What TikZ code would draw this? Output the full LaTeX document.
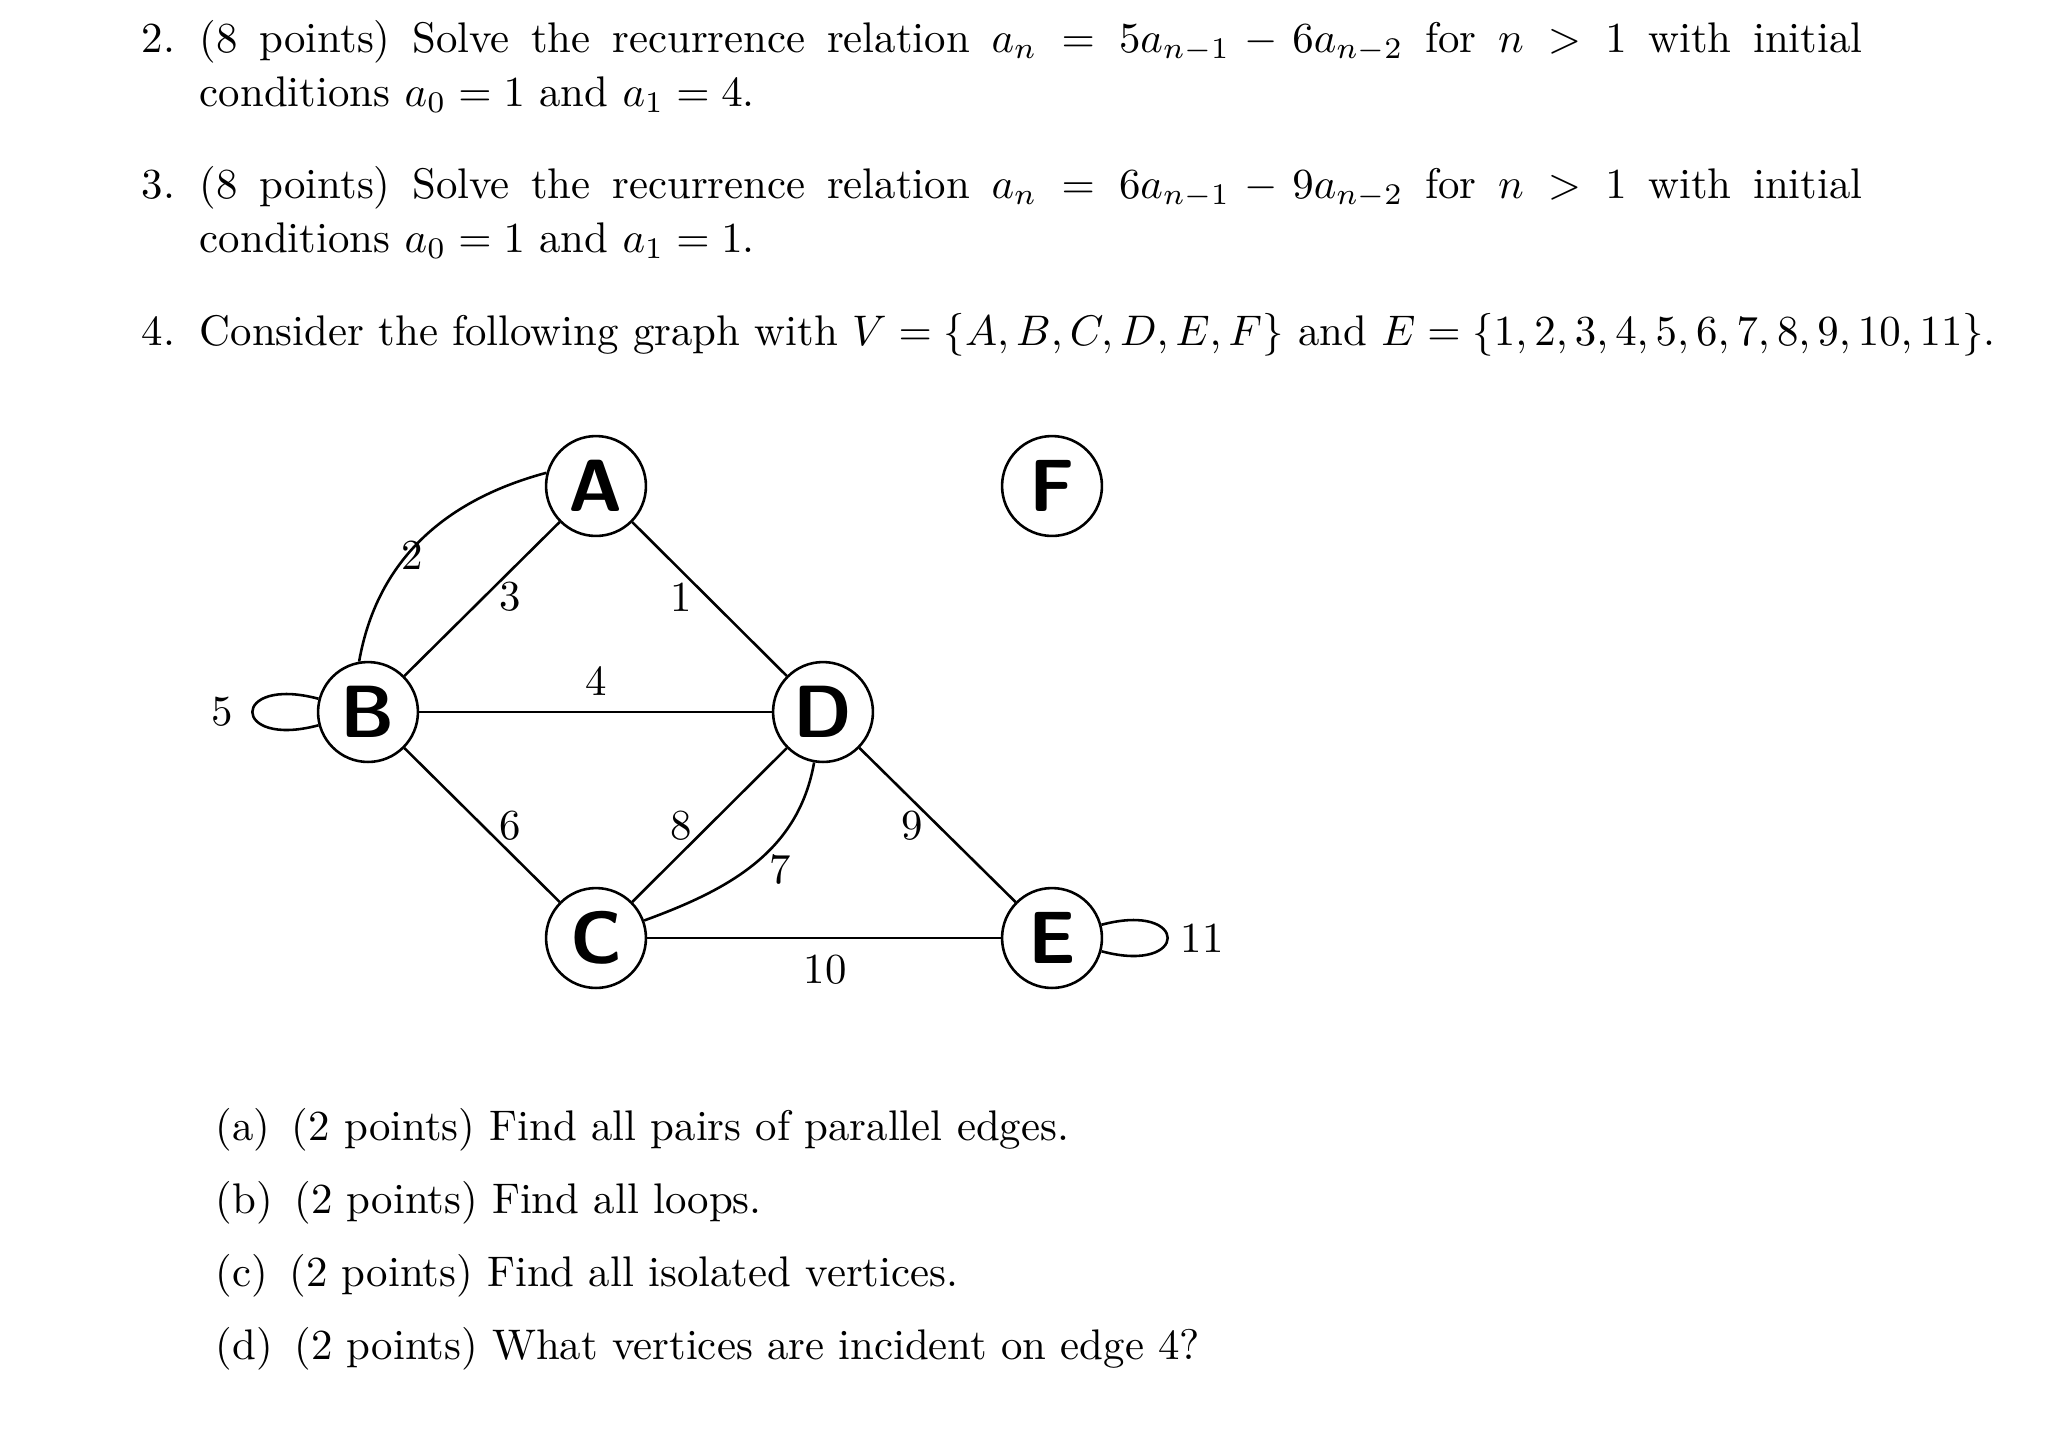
\documentclass[tikz,border=0pt]{standalone}
\usepackage{amsmath}
\usepackage{tikz}
\usetikzlibrary{positioning}

\tikzset{
  vertex/.style={draw,circle,semithick,minimum size=0.82cm,inner sep=0pt,font=\sffamily\bfseries\LARGE},
  edgelbl/.style={inner sep=1pt,font=\normalsize},
  txt/.style={anchor=base west,inner sep=0pt}
}

\begin{document}
\begin{tikzpicture}[x=0.00821cm,y=-0.00821cm]
        \useasboundingbox (0,0) rectangle (2046,1447);

        %%% TEXT %%%
        \node[txt] (n2) at (141,52) {2.};
        \node[txt] (l2a) at (199,52) {\hbox to 13.65cm{(8 points) Solve the recurrence relation $a_n = 5a_{n-1} - 6a_{n-2}$ for $n>1$ with initial}};
        \node[txt] (l2b) at (199,106) {conditions $a_0=1$ and $a_1=4$.};
        \node[txt] (n3) at (141,198) {3.};
        \node[txt] (l3a) at (199,198) {\hbox to 13.65cm{(8 points) Solve the recurrence relation $a_n = 6a_{n-1} - 9a_{n-2}$ for $n>1$ with initial}};
        \node[txt] (l3b) at (199,252) {conditions $a_0=1$ and $a_1=1$.};
        \node[txt] (n4) at (141,345) {4.};
        \node[txt] (l4) at (199,345) {Consider the following graph with $V=\{A,B,C,D,E,F\}$ and $E=\{1,2,3,4,5,6,7,8,9,10,11\}$.};

        \node[txt] (qa) at (215,1140) {(a)\enspace(2 points) Find all pairs of parallel edges.};
        \node[txt] (qb) at (215,1213) {(b)\enspace(2 points) Find all loops.};
        \node[txt] (qc) at (215,1286) {(c)\enspace(2 points) Find all isolated vertices.};
        \node[txt] (qd) at (215,1359) {(d)\enspace(2 points) What vertices are incident on edge 4?};

        %%% VERTICES %%%
        \node[vertex] (A) at (596,486) {A};
        \node[vertex] (F) at (1052,486) {F};
        \node[vertex] (B) at (368,712) {B};
        \node[vertex] (D) at (823,712) {D};
        \node[vertex] (C) at (596,938) {C};
        \node[vertex] (E) at (1052,938) {E};

        %%% EDGES %%%
        \begin{scope}[semithick]
        \draw (A)--(D);
        \draw (B.100) to[out=80,in=195] (A.165);
        \draw (B)--(A);
        \draw (B)--(D);
        \draw (B.165) to[out=165,in=195,min distance=0.75cm] (B.195);
        \draw (B)--(C);
        \draw (D.260) to[out=-100,in=20] (C.20);
        \draw (C)--(D);
        \draw (D)--(E);
        \draw (C)--(E);
        \draw (E.15) to[out=15,in=-15,min distance=0.75cm] (E.-15);
        \end{scope}

        %%% LABELS %%%
        \node[edgelbl] (l1) at (681,597) {1};
        \node[edgelbl] (l2) at (412,555) {2};
        \node[edgelbl] (l3) at (510,597) {3};
        \node[edgelbl] (l4n) at (596,681) {4};
        \node[edgelbl] (l5) at (222,712) {5};
        \node[edgelbl] (l6) at (510,826) {6};
        \node[edgelbl] (l7) at (780,869) {7};
        \node[edgelbl] (l8) at (681,826) {8};
        \node[edgelbl] (l9) at (912,826) {9};
        \node[edgelbl] (l10) at (825,970) {10};
        \node[edgelbl] (l11) at (1202,938) {11};
\end{tikzpicture}
\end{document}
